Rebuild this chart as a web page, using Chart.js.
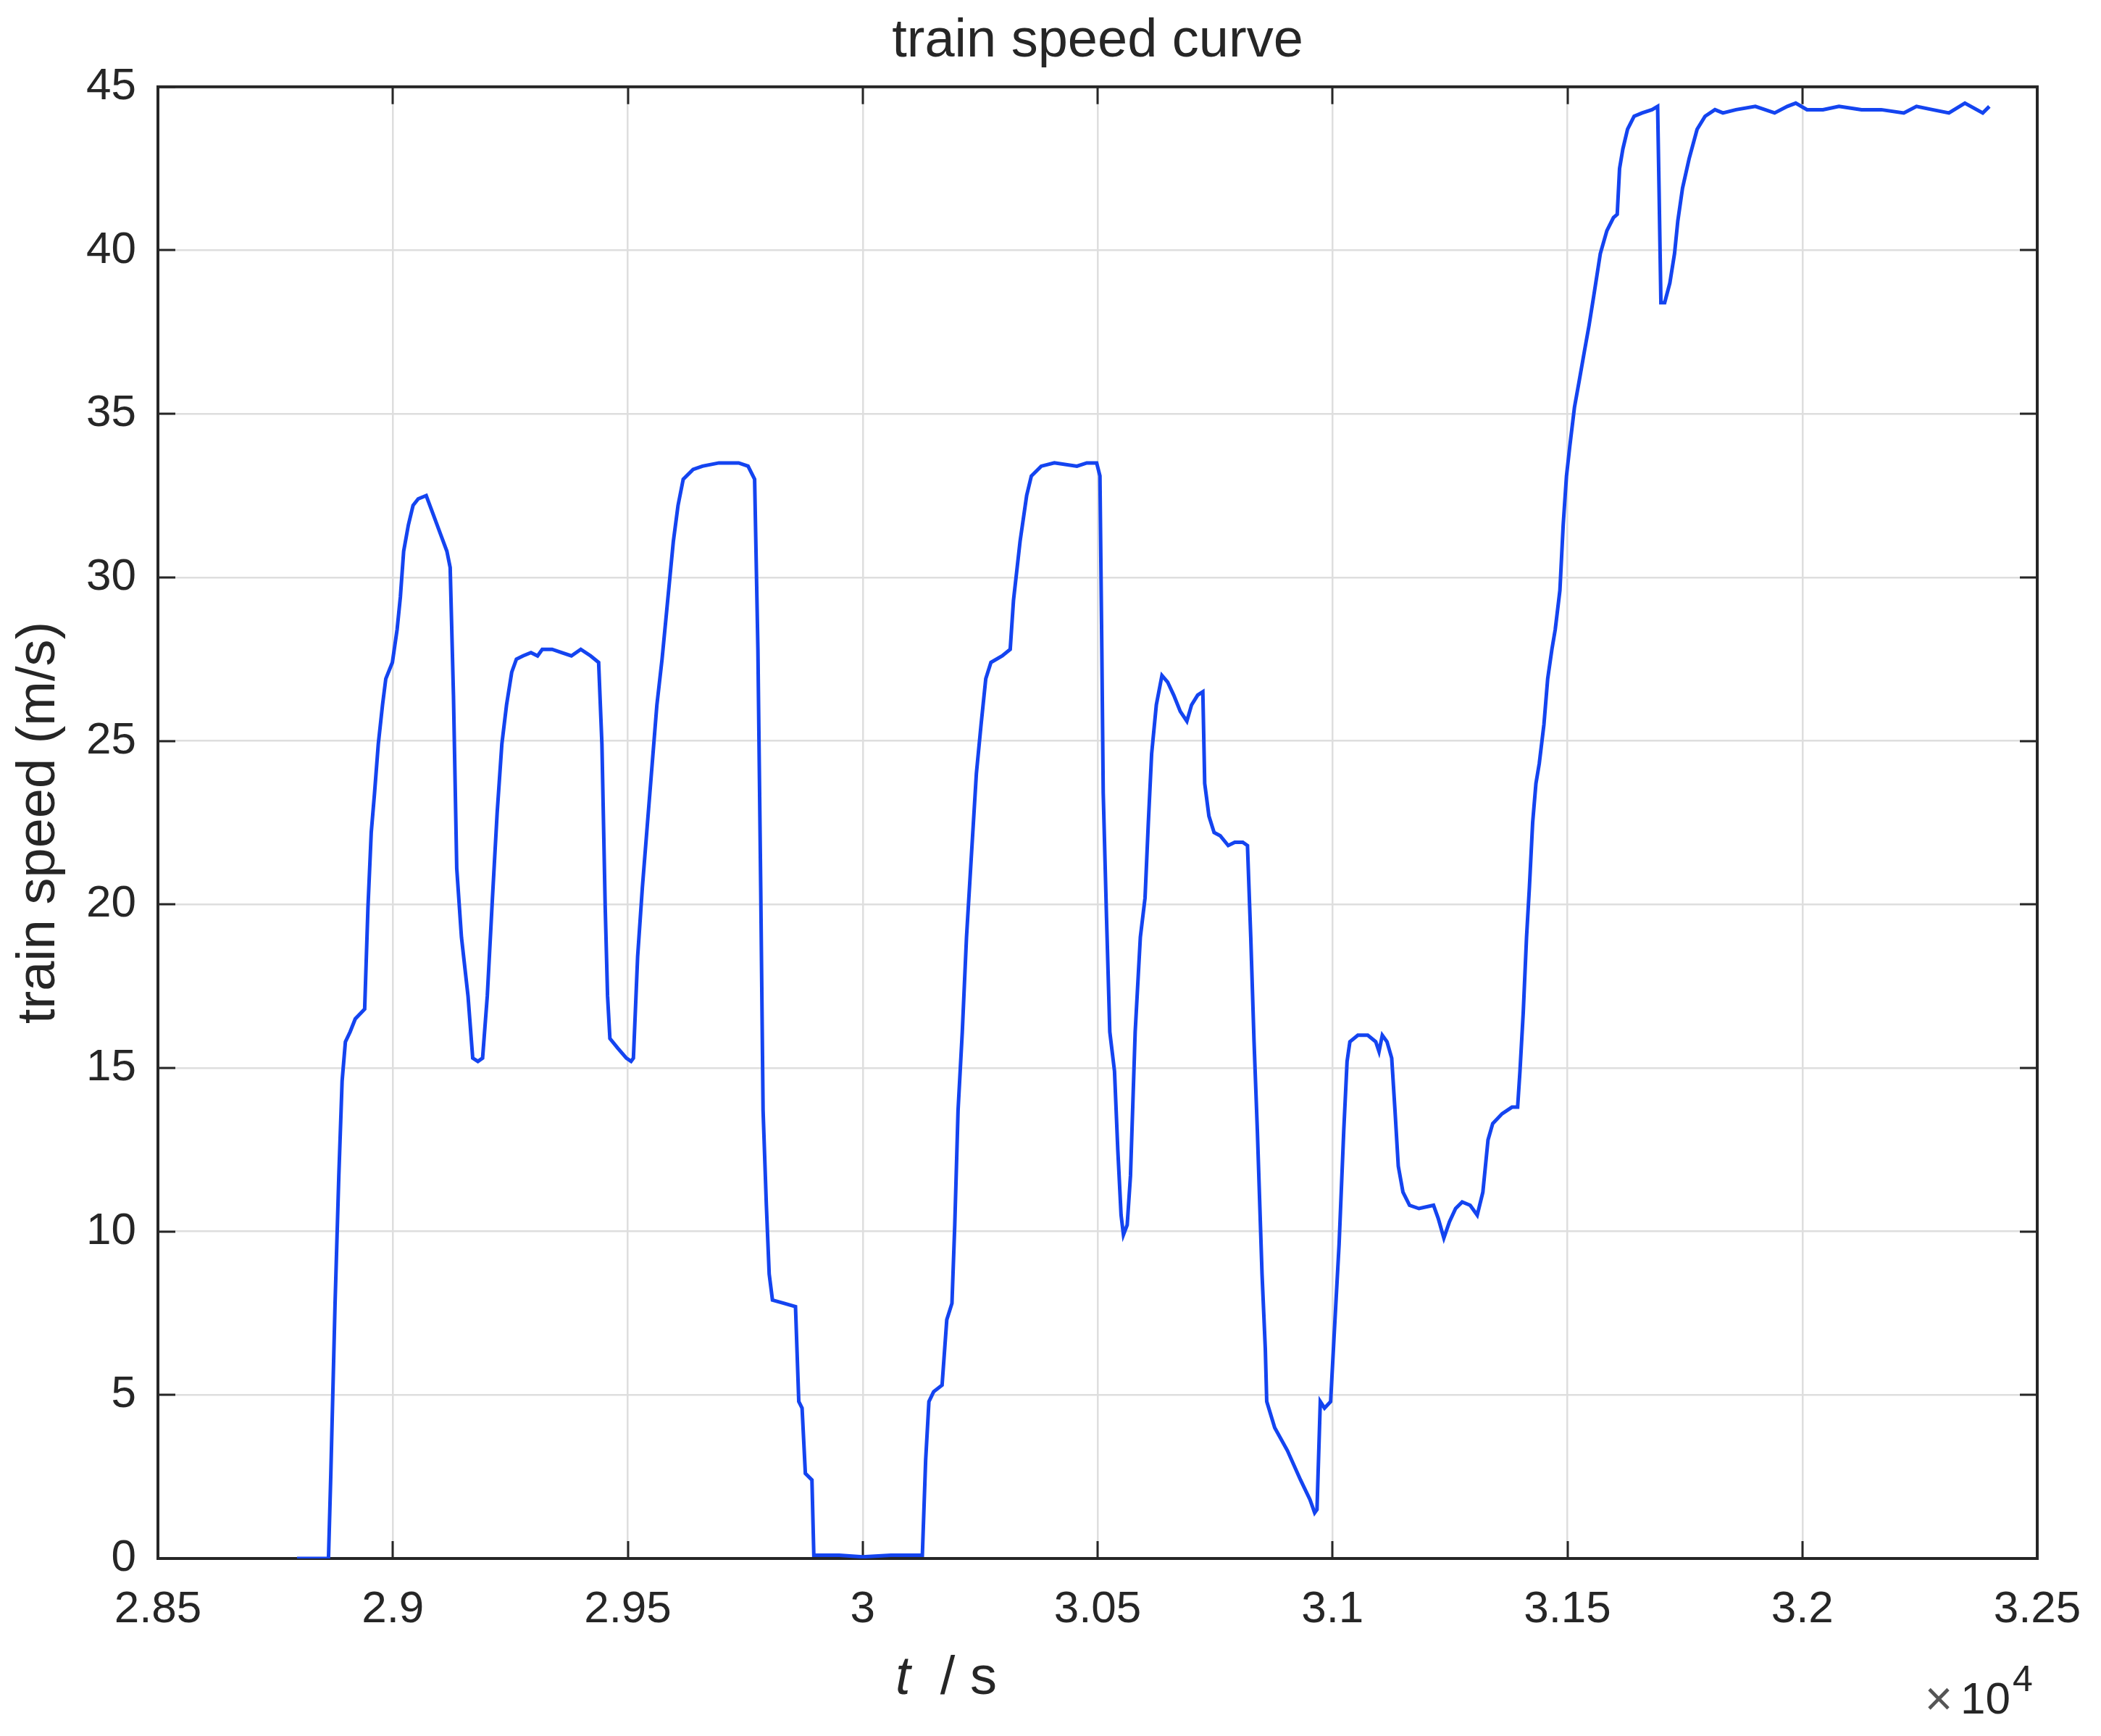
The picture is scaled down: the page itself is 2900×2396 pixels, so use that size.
<!DOCTYPE html>
<html>
<head>
<meta charset="utf-8">
<title>train speed curve</title>
<script src="https://cdn.jsdelivr.net/npm/chart.js@4.4.1/dist/chart.umd.min.js"></script>
<style>
  html, body { margin: 0; padding: 0; background: #fff; }
  canvas { display: block; }
</style>
</head>
<body>
<canvas id="speedChart" width="2900" height="2396" style="width:2900px;height:2396px"></canvas>
<script>
// --- DATA ---
const chartTitle = 'train speed curve';
const yAxisTitle = 'train speed (m/s)';

// time in seconds
const timeSec = [
  28796, 28863, 28868, 28877, 28885, 28892, 28899, 28909, 28920, 28940,
  28947, 28954, 28961, 28969, 28978, 28985, 28999, 29009, 29016, 29023,
  29033, 29043, 29054, 29071, 29084, 29102, 29115, 29122, 29129, 29136,
  29146, 29160, 29170, 29181, 29191, 29201, 29212, 29222, 29232, 29242,
  29253, 29263, 29277, 29294, 29308, 29318, 29339, 29359, 29380, 29400,
  29421, 29438, 29445, 29452, 29457, 29462, 29479, 29497, 29507, 29512,
  29521, 29531, 29542, 29552, 29562, 29573, 29583, 29597, 29607, 29618,
  29639, 29659, 29694, 29736, 29756, 29770, 29777, 29783, 29788, 29795,
  29801, 29808, 29833, 29857, 29864, 29871, 29878, 29892, 29896, 29950,
  30000, 30060, 30127, 30134, 30141, 30151, 30169, 30179, 30190, 30196,
  30203, 30212, 30221, 30231, 30242, 30252, 30262, 30273, 30297, 30314,
  30321, 30335, 30349, 30359, 30380, 30408, 30456, 30477, 30498, 30505,
  30509, 30512, 30519, 30526, 30536, 30543, 30550, 30555, 30563, 30570,
  30580, 30591, 30601, 30608, 30615, 30625, 30637, 30649, 30662, 30676,
  30690, 30700, 30713, 30724, 30728, 30737, 30748, 30761, 30778, 30792,
  30809, 30819, 30826, 30833, 30840, 30850, 30857, 30860, 30877, 30904,
  30932, 30952, 30962, 30967, 30974, 30983, 30996, 31003, 31014, 31024,
  31031, 31037, 31054, 31075, 31092, 31099, 31106, 31116, 31126, 31133,
  31140, 31150, 31164, 31184, 31215, 31225, 31237, 31249, 31262, 31276,
  31293, 31308, 31320, 31331, 31341, 31361, 31382, 31394, 31399, 31406,
  31413, 31419, 31426, 31433, 31440, 31450, 31458, 31467, 31474, 31484,
  31491, 31498, 31505, 31515, 31525, 31536, 31546, 31556, 31570, 31584,
  31598, 31606, 31611, 31618, 31628, 31642, 31659, 31680, 31692, 31695,
  31699, 31707, 31718, 31728, 31735, 31745, 31759, 31776, 31793, 31814,
  31831, 31859, 31900, 31941, 31968, 31986, 32010, 32044, 32078, 32126,
  32168, 32216, 32243, 32277, 32312, 32346, 32384, 32398
];

// speed in m/s
const speedMs = [
  0, 0, 2.6, 7.8, 11.7, 14.6, 15.8, 16.1, 16.5, 16.8,
  19.9, 22.2, 23.4, 24.9, 26.1, 26.9, 27.4, 28.4, 29.4, 30.8,
  31.6, 32.2, 32.4, 32.5, 32.0, 31.3, 30.8, 30.3, 26.4, 21.1,
  19.0, 17.2, 15.3, 15.2, 15.3, 17.2, 20.2, 22.8, 24.9, 26.1,
  27.1, 27.5, 27.6, 27.7, 27.6, 27.8, 27.8, 27.7, 27.6, 27.8,
  27.6, 27.4, 24.9, 19.9, 17.2, 15.9, 15.6, 15.3, 15.2, 15.3,
  18.4, 20.5, 22.5, 24.3, 26.1, 27.5, 29.0, 31.1, 32.2, 33.0,
  33.3, 33.4, 33.5, 33.5, 33.4, 33.0, 27.8, 20.5, 13.7, 10.8,
  8.7, 7.9, 7.8, 7.7, 4.8, 4.6, 2.6, 2.4, 0.1, 0.1,
  0.05, 0.1, 0.1, 3.0, 4.8, 5.1, 5.3, 7.3, 7.8, 10.2,
  13.7, 16.1, 19.0, 21.4, 24.0, 25.5, 26.9, 27.4, 27.6, 27.8,
  29.3, 31.1, 32.5, 33.1, 33.4, 33.5, 33.4, 33.5, 33.5, 33.1,
  27.8, 23.4, 19.6, 16.1, 14.9, 12.5, 10.5, 9.9, 10.2, 11.7,
  16.1, 19.0, 20.2, 22.5, 24.6, 26.1, 27.0, 26.8, 26.4, 25.9,
  25.6, 26.1, 26.4, 26.5, 23.7, 22.7, 22.2, 22.1, 21.8, 21.9,
  21.9, 21.8, 19.0, 15.8, 13.1, 8.7, 6.4, 4.8, 4.0, 3.3,
  2.4, 1.8, 1.4, 1.5, 4.8, 4.6, 4.8, 6.7, 9.6, 13.1,
  15.2, 15.8, 16.0, 16.0, 15.8, 15.5, 16.0, 15.8, 15.3, 13.7,
  12.0, 11.2, 10.8, 10.7, 10.8, 10.4, 9.8, 10.3, 10.7, 10.9,
  10.8, 10.5, 11.2, 12.8, 13.3, 13.6, 13.8, 13.8, 14.9, 16.7,
  19.0, 20.5, 22.5, 23.7, 24.3, 25.5, 26.9, 27.8, 28.4, 29.6,
  31.6, 33.1, 34.0, 35.2, 36.0, 36.9, 37.7, 38.6, 39.9, 40.6,
  41.0, 41.1, 42.5, 43.1, 43.7, 44.1, 44.2, 44.3, 44.4, 41.9,
  38.4, 38.4, 39.0, 39.9, 40.9, 41.9, 42.8, 43.7, 44.1, 44.3,
  44.2, 44.3, 44.4, 44.2, 44.4, 44.5, 44.3, 44.3, 44.4, 44.3,
  44.3, 44.2, 44.4, 44.3, 44.2, 44.5, 44.2, 44.4
];

// axis ranges / ticks
const xMin = 28500, xMax = 32500, xStep = 500;
const yMin = 0, yMax = 45, yStep = 5;

// --- STYLE ---
const FONT = '"Liberation Sans", Arial, Helvetica, sans-serif';
const INK = '#262626';

// frame, inward tick marks and the x-axis label pieces
const matlabAxes = {
  id: 'matlabAxes',
  beforeDatasetsDraw(chart) {
    const { ctx, chartArea: a, scales } = chart;
    const tl = 24;
    ctx.save();
    ctx.strokeStyle = INK;
    ctx.lineWidth = 3;
    ctx.beginPath();
    scales.x.ticks.forEach(t => {
      const px = Math.round(scales.x.getPixelForValue(t.value));
      ctx.moveTo(px, a.bottom); ctx.lineTo(px, a.bottom - tl);
      ctx.moveTo(px, a.top); ctx.lineTo(px, a.top + tl);
    });
    scales.y.ticks.forEach(t => {
      const py = Math.round(scales.y.getPixelForValue(t.value));
      ctx.moveTo(a.left, py); ctx.lineTo(a.left + tl, py);
      ctx.moveTo(a.right, py); ctx.lineTo(a.right - tl, py);
    });
    ctx.stroke();
    ctx.lineWidth = 4;
    ctx.strokeRect(a.left, a.top, a.right - a.left, a.bottom - a.top);
    ctx.restore();
  },
  afterDraw(chart) {
    const { ctx } = chart;
    ctx.save();
    ctx.fillStyle = INK;
    ctx.textBaseline = 'alphabetic';
    // "t  / s" with italic t
    ctx.font = 'italic 74px ' + FONT;
    const tW = ctx.measureText('t').width;
    ctx.font = '74px ' + FONT;
    const restW = ctx.measureText('  / s').width;
    let x0 = 1306 - (tW + restW) / 2;
    ctx.font = 'italic 74px ' + FONT;
    ctx.fillText('t', x0, 2338);
    ctx.font = '74px ' + FONT;
    ctx.fillText('  / s', x0 + tW, 2338);
    // x10^4 multiplier
    ctx.fillStyle = '#555';
    ctx.font = '66px ' + FONT;
    ctx.textAlign = 'center';
    ctx.fillText('\u00d7', 2676, 2367);
    ctx.fillStyle = INK;
    ctx.textAlign = 'left';
    ctx.font = '62px ' + FONT;
    ctx.fillText('10', 2706, 2365);
    ctx.font = '50px ' + FONT;
    ctx.fillText('4', 2778, 2334);
    ctx.restore();
  }
};

function renderChart() {
  const ctx = document.getElementById('speedChart').getContext('2d');
  new Chart(ctx, {
    type: 'line',
    data: {
      datasets: [{
        label: 'train speed',
        data: timeSec.map((t, i) => ({ x: t, y: speedMs[i] })),
        borderColor: '#1444f0',
        borderWidth: 5,
        pointRadius: 0,
        tension: 0,
        fill: false
      }]
    },
    options: {
      responsive: false,
      devicePixelRatio: 1,
      animation: false,
      layout: { padding: { left: 0, right: 88, top: 0, bottom: 0 } },
      plugins: {
        legend: { display: false },
        tooltip: { enabled: false },
        title: {
          display: true,
          text: chartTitle,
          fullSize: false,
          color: INK,
          font: { family: FONT, size: 74, weight: 'normal' },
          padding: { top: 13, bottom: 18 }
        }
      },
      scales: {
        x: {
          type: 'linear',
          min: xMin, max: xMax,
          afterFit: s => { s.height = 245; s.paddingLeft = 0; s.paddingRight = 0; },
          border: { display: false },
          grid: { color: '#dedede', lineWidth: 2.5, drawTicks: false },
          ticks: {
            stepSize: xStep,
            padding: 34,
            color: INK,
            maxRotation: 0,
            autoSkip: false,
            font: { family: FONT, size: 62 },
            callback: v => String(+(v / 1e4).toFixed(2))
          }
        },
        y: {
          min: yMin, max: yMax,
          afterFit: s => { s.width = 218; },
          border: { display: false },
          grid: { color: '#dedede', lineWidth: 2.5, drawTicks: false },
          ticks: {
            stepSize: yStep,
            padding: 30,
            color: INK,
            font: { family: FONT, size: 62 }
          },
          title: {
            display: true,
            text: yAxisTitle,
            color: INK,
            font: { family: FONT, size: 74 },
            padding: { top: 10, bottom: 0 }
          }
        }
      }
    },
    plugins: [matlabAxes]
  });
}

renderChart();
</script>
</body>
</html>
